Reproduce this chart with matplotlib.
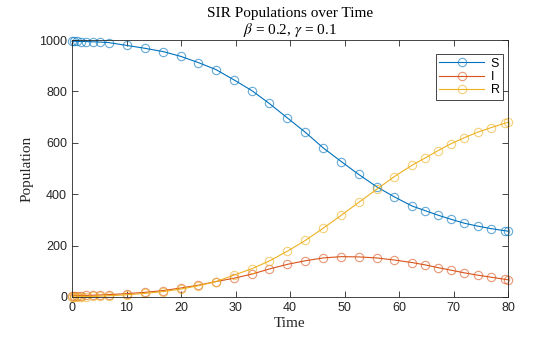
import numpy as np
import matplotlib
matplotlib.use("Agg")
import matplotlib.pyplot as plt

# time points (solver steps) and populations
t = [0, 0.4, 1.0, 1.6, 2.6, 3.8, 5.2, 6.7, 10.0, 13.3, 16.7, 20.0, 23.2, 26.4,
     29.7, 33.0, 36.2, 39.5, 42.8, 46.1, 49.4, 52.6, 55.9, 59.1, 62.4, 64.8,
     67.2, 69.6, 72.0, 74.4, 76.9, 79.4, 80.0]
S = [995, 995, 995, 994, 994, 993, 992, 990, 979, 968, 955, 936, 912, 885,
     845, 803, 753, 697, 641, 580, 527, 477, 429, 390, 354, 336, 318, 302,
     287, 276, 266, 258, 256]
I = [5, 5.2, 5.5, 5.8, 6.3, 7.0, 8.0, 9.5, 13, 18, 25, 35, 46, 60, 73, 89,
     109, 127, 141, 152, 157, 156, 152, 144, 134, 125, 114, 104, 94, 85, 77,
     69, 67]
R = [0, 0.2, 0.5, 0.9, 1.5, 2.3, 3.3, 4.8, 8.5, 14, 21, 31, 44, 60, 85, 110,
     140, 178, 220, 268, 318, 368, 419, 468, 513, 541, 570, 597, 620, 641,
     659, 676, 680]

series = [("S", S, (0.0, 0.447, 0.741)),
          ("I", I, (0.851, 0.325, 0.098)),
          ("R", R, (0.929, 0.694, 0.125))]

plt.rcParams['font.family'] = ['Liberation Sans']
plt.rcParams['mathtext.fontset'] = 'stix'
axcol = '#262626'

fig = plt.figure(figsize=(5.6, 3.37), dpi=100)
ax = fig.add_axes([0.1286, 0.1187, 0.7786, 0.7626])

for name, vals, col in series:
    ax.plot(t, vals, '-', color=col, linewidth=0.8, marker='o', markersize=6,
            markerfacecolor='none', markeredgecolor=col + (0.6,),
            markeredgewidth=0.8, label=name, clip_on=False)

ax.set_xlim(0, 80)
ax.set_ylim(0, 1000)
ax.set_xticks(np.arange(0, 81, 10))
ax.set_yticks(np.arange(0, 1001, 200))
ax.tick_params(direction='in', top=True, right=True, length=4, width=0.6,
               colors=axcol, labelsize=9)
for sp in ax.spines.values():
    sp.set_color(axcol)
    sp.set_linewidth(0.6)

ax.set_xlabel('Time', family='Liberation Serif', fontsize=11, color=axcol, labelpad=2)
ax.set_ylabel('Population', family='Liberation Serif', fontsize=11, color=axcol, labelpad=4)
ax.set_title('SIR Populations over Time\n$\\beta$ = 0.2, $\\gamma$ = 0.1',
             family='Liberation Serif', fontsize=11, color='black', pad=4,
             linespacing=1.1)

leg = ax.legend(loc='upper right', bbox_to_anchor=(0.995, 0.955),
                prop={'family': 'Liberation Sans', 'size': 9},
                fancybox=False, framealpha=1, edgecolor=axcol,
                handlelength=3.6, handletextpad=0.5, borderpad=0.3,
                labelspacing=0.1, borderaxespad=0.2)
leg.get_frame().set_linewidth(0.6)

fig.savefig('out.png', dpi=100)
